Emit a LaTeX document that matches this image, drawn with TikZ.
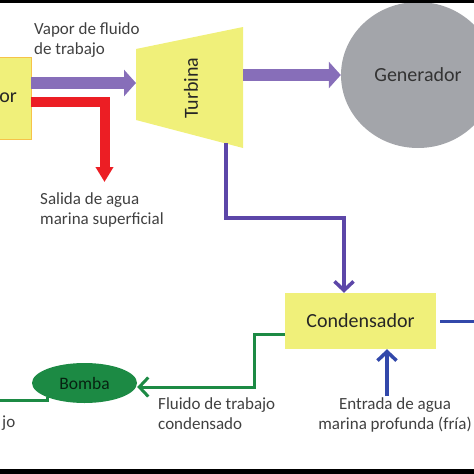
\documentclass[tikz,border=0pt]{standalone}
\usepackage{fontspec}
\setmainfont{Carlito}
\usetikzlibrary{arrows.meta,shapes.geometric}
\definecolor{boxyellow}{RGB}{240,240,122}
\definecolor{fatpurple}{RGB}{135,110,185}
\definecolor{linepurple}{RGB}{92,70,168}
\definecolor{outred}{RGB}{236,30,36}
\definecolor{pumpgreen}{RGB}{28,138,68}
\definecolor{gengray}{RGB}{163,165,170}
\definecolor{inblue}{RGB}{50,72,170}
\definecolor{labelgray}{RGB}{64,64,64}
\begin{document}
\begin{tikzpicture}[x=1pt,y=-1pt,
    box/.style={fill=boxyellow,font=\fontsize{20}{24}\selectfont,text=black!85},
    lbl/.style={align=left,text=labelgray,font=\fontsize{17}{20.5}\selectfont,inner sep=0pt},
    fat/.style={draw=fatpurple,line width=12pt,-{Triangle[length=12pt,width=26pt]}},
    thinline/.style={line width=3.5pt,-{Straight Barb[length=9pt,width=19pt]}}]
      \useasboundingbox (0,0) rectangle (474,474);
      \clip (0,0) rectangle (474,474);
      \coordinate (tin)  at (136,49);
      \coordinate (tinb) at (136,120);
      \coordinate (tout) at (243,27);
      \coordinate (toutb) at (243,148);
      \fill[boxyellow] (tin) -- (tout) -- (toutb) -- (tinb) -- cycle;

      \node (evap)    at (31,98)  [box,anchor=east,draw=orange!40!boxyellow,minimum height=82pt,text width=34pt,align=right,inner xsep=14pt] {or};
      \node (turb)    at (191,88) [rotate=90,font=\fontsize{20}{24}\selectfont,text=black!85] {Turbina};
      \node (gen)     at (418,75) [ellipse,fill=gengray,minimum width=154pt,minimum height=146pt,font=\fontsize{20}{24}\selectfont,text=black!80] {Generador};
      \node (cond)    at (360.5,321) [box,minimum width=151pt,minimum height=56pt] {Condensador};
      \node (bomba)   at (84.5,383) [ellipse,fill=pumpgreen,minimum width=105pt,minimum height=40pt,font=\fontsize{17.5}{20}\selectfont,text=black!75!pumpgreen] {Bomba};

      \node (vapor)   at (34,22)  [lbl,anchor=north west] {Vapor de fluido\\de trabajo};
      \node (salida)  at (40,192) [lbl,anchor=north west] {Salida de agua\\marina superficial};
      \node (fluido)  at (158,397) [lbl,anchor=north west] {Fluido de trabajo\\condensado};
      \node (entrada) at (395,397) [lbl,anchor=north,align=center] {Entrada de agua\\marina profunda (fría)};
      \node (jo)      at (2,427) [lbl,anchor=base west] {jo};

      \coordinate (redtip)  at (104.5,182);
      \coordinate (tbot)    at (226,143);
      \coordinate (rightend) at (480,321);
      \coordinate (pumpout) at (-2,400);

      \draw[fat] (evap.east |- 0,83) -- (tin |- 0,83);
      \draw[fat] (tout |- gen.west) -- (gen.west);
      \draw[draw=outred,line width=10pt,line join=miter,-{Triangle[length=15pt,width=17pt]}] (evap.east |- 0,102) -| (redtip);
      \draw[thinline,draw=linepurple] (tbot) |- ([xshift=-16.5pt,yshift=75pt]cond.north) -- ([xshift=-16.5pt]cond.north);
      \draw[draw=inblue,line width=3pt,shorten <=4pt] (cond.east) -- (rightend);
      \draw[thinline,draw=inblue,shorten <=1pt] ([xshift=-8pt]entrada.north) -- ([xshift=-8pt]entrada.north |- cond.south);
      \draw[thinline,draw=pumpgreen,line width=3pt] ([yshift=-13pt]cond.west) -- ++(-30,0) |- ([yshift=-4pt]bomba.east);
      \draw[draw=pumpgreen,line width=3pt] (bomba.south west) |- (pumpout);

      \fill[black] (0,0) rectangle (474,3);
      \fill[black] (0,469) rectangle (474,474);
    \end{tikzpicture}
\end{document}
